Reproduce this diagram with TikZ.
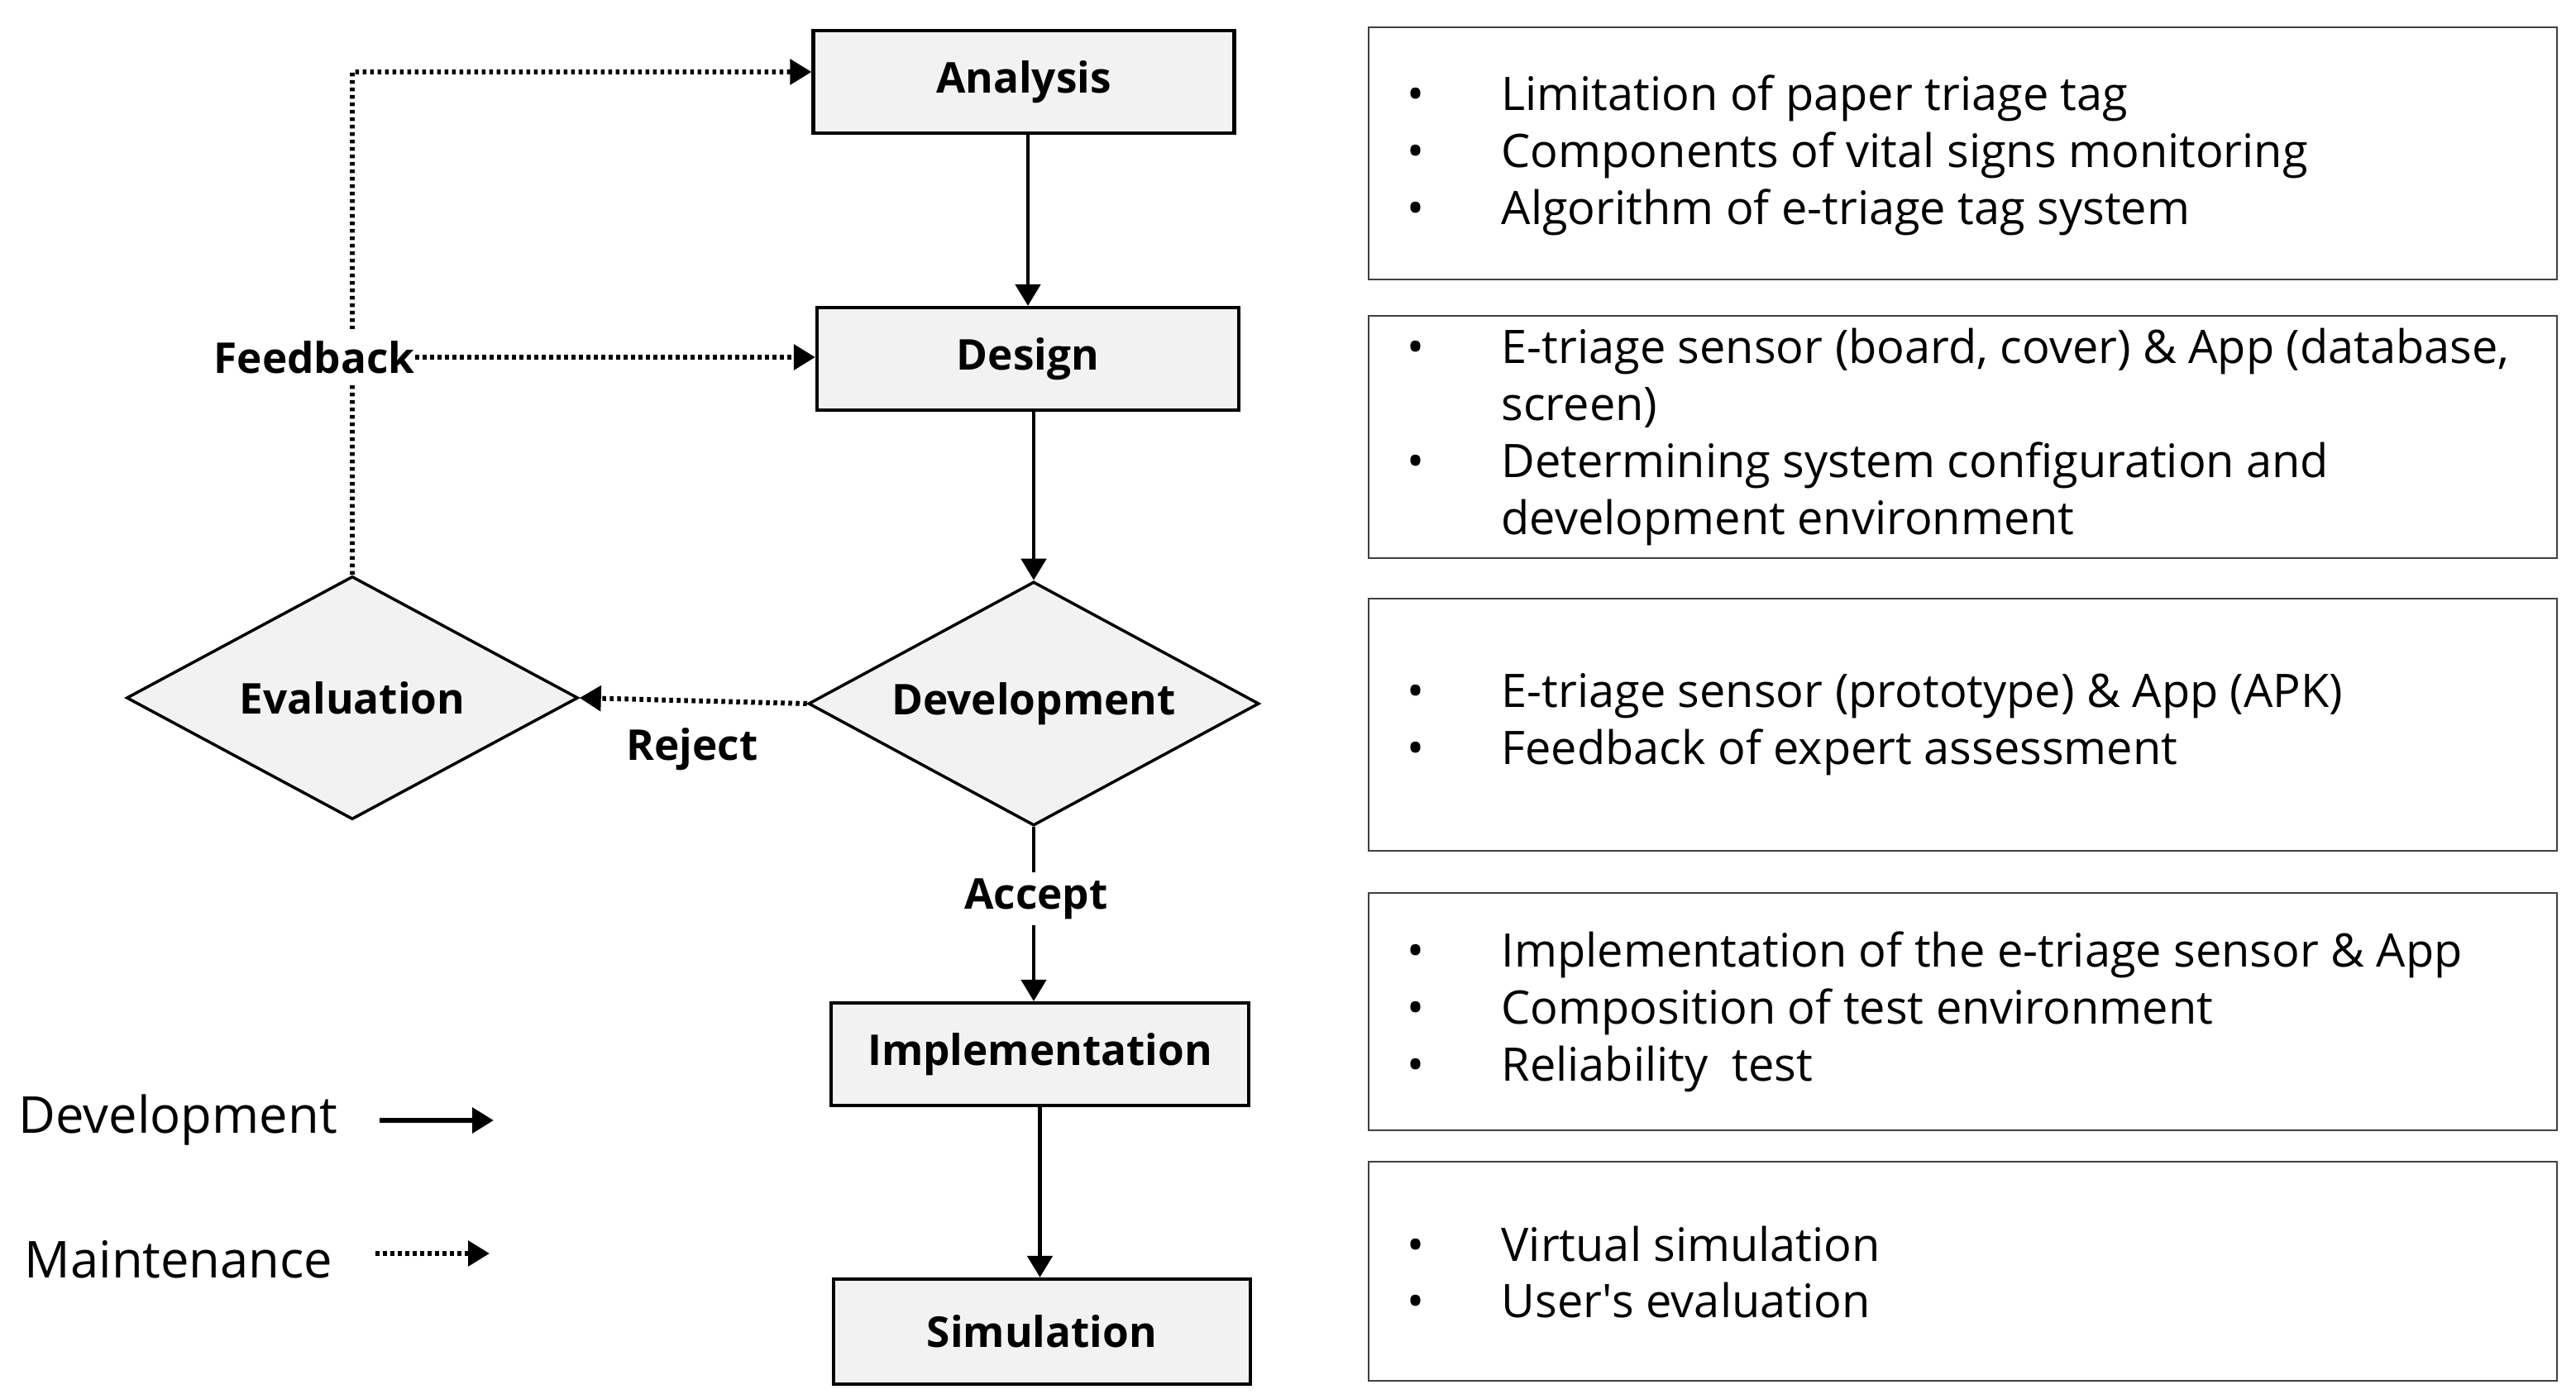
\documentclass[tikz,border=0pt]{standalone}
\usepackage{fontspec}
\setmainfont{Open Sans}
\usetikzlibrary{arrows.meta,shapes.geometric}
\definecolor{boxfill}{RGB}{242,242,242}
\begin{document}
\begin{tikzpicture}[x=1cm,y=1cm,
 proc/.style={draw=black, line width=1.2pt, fill=boxfill, minimum height=1.24cm, inner sep=0pt, font=\bfseries\fontsize{14.6}{18}\selectfont},
 dec/.style={diamond, draw=black, line width=1pt, fill=boxfill, minimum width=5.46cm, minimum height=2.94cm, inner sep=0pt, aspect=1.86, font=\bfseries\fontsize{14.6}{18}\selectfont},
 flow/.style={-{Triangle[length=0.26cm,width=0.3cm]}, line width=1.35pt},
 maint/.style={-{Triangle[length=0.26cm,width=0.3cm]}, line width=1.7pt, dash pattern=on 0.045cm off 0.045cm},
 infobox/.style={draw=black!75, line width=0.8pt, minimum width=14.37cm, inner sep=0pt},
 infotext/.style={align=left, inner sep=0pt, anchor=west, font=\fontsize{15.9}{19.6}\selectfont},
 lbl/.style={font=\bfseries\fontsize{14.6}{18}\selectfont, inner sep=0pt},
 legtext/.style={font=\fontsize{17.5}{20}\selectfont, inner sep=0pt, anchor=west},
]
\useasboundingbox (0,0) rectangle (31.15,-16.92);
\newcommand{\bul}{\makebox[1.14cm][l]{•}}
\newcommand{\ind}{\hspace*{1.14cm}}

% process nodes
\node[proc, minimum width=5.09cm] (ana) at (12.38,-0.99) {Analysis};
\node[proc, minimum width=5.10cm] (des) at (12.43,-4.34) {Design};
\node[dec] (eva) at (4.26,-8.44) {Evaluation};
\node[dec, minimum width=5.45cm, minimum height=2.95cm] (dev) at (12.50,-8.51) {Development};
\node[proc, minimum width=5.05cm] (imp) at (12.575,-12.75) {Implementation};
\node[proc, minimum width=5.04cm, minimum height=1.27cm] (sim) at (12.60,-16.105) {Simulation};

% development flow
\draw[flow] ([xshift=0.05cm]ana.south) -- ([xshift=0.05cm]ana.south |- des.north);
\draw[flow] (dev.north |- des.south) -- (dev.north);
\draw[flow] (dev.south) -- (dev.south |- imp.north);
\node[lbl, fill=white, inner sep=2pt] (acc) at (12.53,-10.87) {Accept};
\draw[flow] (imp.south) -- (imp.south |- sim.north);

% maintenance flow
\draw[maint] (dev.west) -- (eva.east);
\node[lbl] (rej) at (8.37,-9.06) {Reject};
\draw[maint] (eva.north) -- (eva.north |- 0,-0.87) -- ([yshift=0.12cm]ana.west);
\node[lbl, fill=white, inner ysep=4pt] (fb) at (3.80,-4.32) {Feedback};
\draw[maint] (fb.east) -- (fb.east -| des.west);

% info boxes
\node[infobox, minimum height=3.05cm] (b1) at (23.735,-1.855) {};
\node[infotext] (t1) at (17.01,-1.875) {\bul Limitation of paper triage tag\\\bul Components of vital signs monitoring\\\bul Algorithm of e-triage tag system};
\node[infobox, minimum height=2.93cm] (b2) at (23.735,-5.285) {};
\node[infotext] (t2) at (17.01,-5.285) {\bul E-triage sensor (board, cover) \& App (database,\\\ind screen)\\\bul Determining system configuration and\\\ind development environment};
\node[infobox, minimum height=3.05cm] (b3) at (23.735,-8.765) {};
\node[infotext] (t3) at (17.01,-8.765) {\bul E-triage sensor (prototype) \& App (APK)\\\bul Feedback of expert assessment};
\node[infobox, minimum height=2.87cm] (b4) at (23.735,-12.235) {};
\node[infotext] (t4) at (17.01,-12.235) {\bul Implementation of the e-triage sensor \& App\\\bul Composition of test environment\\\bul Reliability\ \ test};
\node[infobox, minimum height=2.65cm] (b5) at (23.735,-15.375) {};
\node[infotext] (t5) at (17.01,-15.385) {\bul Virtual simulation\\\bul User\textquotesingle s evaluation};

% legend
\node[legtext] (ldev) at (0.22,-13.55) {Development};
\coordinate (ld1) at (4.59,-13.55);
\coordinate (ld2) at (5.97,-13.55);
\draw[flow, line width=1.8pt] (ld1) -- (ld2);
\node[legtext] (lmai) at (0.29,-15.23) {Maintenance};
\coordinate (lm1) at (4.54,-15.16);
\coordinate (lm2) at (5.92,-15.16);
\draw[maint] (lm1) -- (lm2);
\end{tikzpicture}
\end{document}
